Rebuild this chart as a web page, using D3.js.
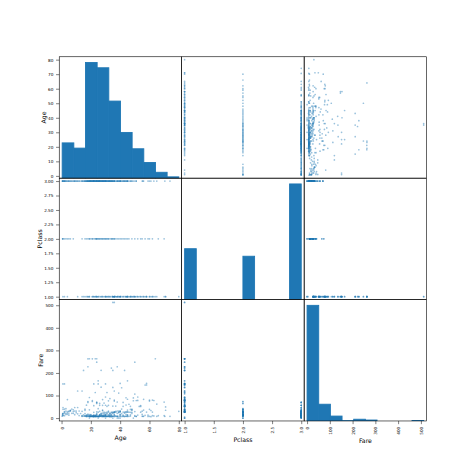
<!DOCTYPE html>
<html><head><meta charset="utf-8">
<script src="https://cdn.jsdelivr.net/npm/d3@7"></script>
<style>body{margin:0;background:#fff}svg{display:block}</style>
</head><body>
<svg id="chart" width="474" height="473"></svg>
<script>
// ---------- data ----------
const columns = ["Age", "Pclass", "Fare"];
const dataExtents = { Age: [0.42, 80], Pclass: [1, 3], Fare: [0, 512.3292] };
const ageHistCounts = [54, 46, 177, 169, 118, 70, 45, 24, 9, 2];
const pclassHistCounts = [216, 0, 0, 0, 0, 184, 0, 0, 0, 491];
const fareHistCounts = [732, 106, 31, 2, 11, 6, 0, 0, 0, 3];
const ageYTicks = [0, 10, 20, 30, 40, 50, 60, 70, 80];
const ageXTicks = [0, 20, 40, 60, 80];
const pclassYTicks = [1.0, 1.25, 1.5, 1.75, 2.0, 2.25, 2.5, 2.75, 3.0];
const pclassXTicks = [1.0, 1.5, 2.0, 2.5, 3.0];
const fareTicks = [0, 100, 200, 300, 400, 500];
// passengers: [age, pclass, fare]  (null age = missing)
const passengers = [
[38,1,71.28],[35,1,53.1],[54,1,51.86],[58,1,26.55],[28,1,35.5],[19,1,263],[40,1,27.72],[null,1,146.52],[28,1,82.17],[42,1,52],
[45,1,83.48],[65,1,61.98],[49,1,76.73],[24,1,263],[23,1,263],[64,1,263],[45,1,35.5],[37,1,53.1],[36,1,512.33],[35,1,512.33],
[50,1,247.52],[24,1,247.52],[47,1,52],[2,1,151.55],[0.92,1,151.55],[25,1,151.55],[30,1,151.55],[11,1,120],[36,1,120],[14,1,120],
[40,1,153.46],[60,1,79.2],[71,1,34.65],[71,1,49.5],[80,1,30],[70,1,71],[62,1,80],[39,1,0],[38,1,0],[40,1,0],
[33,1,5],[17,1,57],[56,1,83.16],[44,1,90],[21,1,262.38],[18,1,262.38],[58,1,146.52],[22,1,151.55],[32,1,76.29],[31,1,113.28],
[50,1,106.43],[48,1,39.6],[52,1,78.27],[30,1,93.5],[16,1,39.4],[27,1,211.5],[43,1,211.34],[35,1,211.34],[15,1,211.34],[38,1,227.53],
[18,1,227.53],[46,1,61.18],[51,1,77.96],[63,1,77.96],[29,1,66.6],[26,1,30],[36,1,26.29],[42,1,26.55],[55,1,30.5],[47,1,25.59],
[61,1,33.5],[57,1,146.52],[44,1,57.98],[33,1,86.5],[24,1,69.3],[54,1,55.44],[31,1,52],[39,1,110.88],[49,1,89.1],[53,1,51.48],
[41,1,134.5],[22,1,55],[35,1,135.63],[37,1,29.7],[45,1,26.55],[32,1,30.5],[60,1,75.25],[48,1,25.93],[27,1,136.78],[19,1,91.08],
[52,1,93.5],[36,1,75.24],[23,1,113.28],[30,1,56.93],[44,1,27.72],[58,1,153.46],[21,1,77.96],[4,1,81.86],[25,1,164.87],[62,1,26.55],
[36,1,79.65],[34,1,221.78],[50,1,28.71],[40,1,31],[47,1,38.5],[56,1,35.5],[45,1,164.87],
[null,1,30.7],[null,1,50],[null,1,227.53],[null,1,221.78],[null,1,39.6],[null,1,25.93],
[14,2,30.07],[55,2,16],[35,2,26],[34,2,13],[66,2,10.5],[27,2,21],[3,2,41.58],[29,2,26],[21,2,73.5],[32,2,10.5],
[23,2,13],[1,2,39],[8,2,36.75],[25,2,26],[30,2,13],[42,2,13],[19,2,10.5],[36,2,26],[2,2,26],[24,2,65],
[28,2,13],[57,2,12.35],[54,2,26],[40,2,15.75],[31,2,21],[18,2,73.5],[22,2,10.5],[44,2,26],[0.83,2,18.75],[4,2,23],
[50,2,10.5],[62,2,10.5],[70,2,10.5],[34,2,23],[26,2,13],[48,2,36.75],[6,2,33],[23,2,11.5],[29,2,10.5],[37,2,26],
[24,2,14.5],[16,2,10.5],[45,2,13.5],[33,2,12.28],[27,2,13.86],[39,2,26],[5,2,27.75],[20,2,15.05],[41,2,19.5],[52,2,13.5],
[35,2,0],[30,2,0],[38,2,21],[0.67,2,14.5],[46,2,26],[25,2,41.58],[32,2,26],[19,2,36.75],[60,2,39],[36,2,13],
[28,2,33],[21,2,11.5],[17,2,10.5],[43,2,26.25],[59,2,13.5],[26,2,65],[31,2,26.25],[24,2,27.72],
[null,2,13],[null,2,15.05],[null,2,0],[null,2,12.35],
[22,3,7.25],[26,3,7.92],[35,3,8.05],[2,3,21.08],[27,3,11.13],[4,3,16.7],[20,3,8.05],[39,3,31.28],[14,3,7.85],[2,3,29.13],
[31,3,18],[15,3,8.03],[8,3,21.08],[38,3,31.39],[21,3,8.05],[18,3,18],[14,3,11.24],[40,3,9.48],[19,3,8.05],[18,3,7.75],
[7,3,39.69],[21,3,7.8],[28.5,3,7.23],[22,3,7.25],[29,3,9.5],[16,3,8.05],[24,3,7.14],[20,3,7.85],[26,3,8.66],[32,3,7.92],
[25,3,7.9],[11,3,46.9],[28,3,7.9],[22,3,7.75],[29,3,7.75],[45,3,7.23],[33,3,9.5],[47,3,9],[17,3,14.46],[24,3,8.05],
[9,3,31.39],[3,3,15.9],[1,3,11.13],[34,3,6.5],[30,3,9.5],[40,3,27.9],[41,3,7.13],[42,3,8.4],[20,3,9.85],[23,3,7.85],
[43,3,8.05],[36,3,24.15],[44,3,16.1],[26,3,14.45],[19,3,7.88],[17,3,7.23],[16,3,20.25],[0.42,3,8.52],[37,3,7.93],[5,3,19.26],
[10,3,31.28],[25,3,7.05],[51,3,7.05],[55.5,3,8.05],[61,3,6.24],[65,3,7.75],[74,3,7.78],[70.5,3,7.75],[59,3,7.25],[48,3,34.38],
[56,3,7.92],[45,3,14.11],[31,3,7.78],[21,3,7.92],[24,3,16.7],[28,3,56.5],[23,3,7.55],[22,3,9.35],[32,3,56.5],[30,3,8.66],
[26,3,56.5],[33,3,15.85],[35,3,20.25],[36,3,15.55],[38,3,7.05],[18,3,14.45],[27,3,7.9],[19,3,0],[25,3,0],[49,3,0],
[29,3,21.08],[34,3,14.4],[4,3,29.13],[6,3,31.28],[1,3,20.58],[9,3,46.9],[13,3,20.25],[12,3,11.24],[3,3,31.39],[0.75,3,19.26],
[41,3,39.69],[33,3,20.52],[40,3,15.5],[45,3,27.9],[37,3,9.59],[28,3,22.03],[30,3,16.1],[20,3,7.92],[21,3,8.05],[23,3,7.23],
[24,3,9.5],[26,3,7.78],[27,3,14.45],[31,3,7.75],[32,3,8.05],[34,3,8.05],[36,3,7.5],[39,3,24.15],[17,3,7.23],[16,3,9.5],
[20,3,7.05],[22,3,7.9],[25,3,7.65],[29,3,7.9],[30,3,24.15],[35,3,7.75],[43,3,6.45],[50,3,8.05],[60,3,7.75],[63,3,9.59],
[55,3,7.75],[44,3,8.05],[47,3,14.5],[40,3,7.9],[38,3,8.66],[14,3,9.23],[11,3,18.79],[8,3,29.13],[7,3,21.08],[5,3,12.48],
[2,3,10.46],[1,3,12.18],[24,3,69.55],[42,3,69.55],[18,3,69.55],
[19,3,6.75],[23,3,7.8],[28,3,7.9],[25,3,7.23],[21,3,7.75],[30,3,8.05],[33,3,7.9],[26,3,7.8],[22,3,7.52],[24,3,7.05],
[27,3,7.9],[29,3,7.23],[32,3,7.75],[20,3,7.23],[18,3,7.8],[17,3,8.66],[34,3,6.5],[36,3,7.9],[35,3,8.05],[31,3,7.85],
[28,3,9.5],[23,3,7.9],[19,3,7.65],[26,3,7.9],[21,3,6.98],[30,3,7.23],[25,3,7.8],[24,3,7.9],[22,3,7.23],[27,3,7.78],
[33,3,8.05],[38,3,7.9],[42,3,7.55],[45,3,8.05],[39,3,7.23],[44,3,7.9],[46,3,7.75],[51,3,8.05],[20,3,14.5],[26,3,15.5],
[29,3,16.1],[32,3,15.85],[35,3,24.15],[22,3,14.45],[19,3,15.24],[24,3,19.97],[40,3,31.39],[36,3,27.9],[27,3,20.21],[30,3,14.5],
[9,3,15.25],[10,3,24.15],[2,3,39.69],[3,3,20.58],[6,3,34.38],[5,3,31.28],[1,3,46.9],[12,3,31.39],[15,3,14.45],[16,3,34.38],
[34,3,26.55],[43,3,21.68],[48,3,20.58],[33,3,20.58],[22,3,25.47],[18,3,11.5],[28,3,7.9],[23,3,8.05],[25,3,8.05],[31,3,7.9],
[null,3,8.46],[null,3,7.23],[null,3,7.88],[null,3,7.9],[null,3,7.75],[null,3,7.23],[null,3,22.36],[null,3,69.55],[null,3,8.05],[null,3,15.5],
[null,3,7.73],[null,3,14.46],[null,3,25.47],[null,3,7.25],[null,3,56.5],[null,3,8.05],[null,3,23.45],[null,3,7.75],[null,3,24.15],[null,3,6.95],
[null,3,15.25],[null,3,0],[null,3,31.39],[null,3,8.14]
];
const histCounts = { Age: ageHistCounts, Pclass: pclassHistCounts, Fare: fareHistCounts };
const yTicks = { Age: ageYTicks, Pclass: pclassYTicks, Fare: fareTicks };
const xTicks = { Age: ageXTicks, Pclass: pclassXTicks, Fare: fareTicks };
const yFmt = { Age: d3.format("d"), Pclass: d3.format(".2f"), Fare: d3.format("d") };
const xFmt = { Age: d3.format("d"), Pclass: d3.format(".1f"), Fare: d3.format("d") };

// ---------- layout ----------
const W = 474, H = 473;
const L = 0.125 * W, R = 0.9 * W, T = 0.12 * H, B = 0.89 * H;
const n = columns.length;
const pw = (R - L) / n, ph = (B - T) / n;
const color = "#1f77b4";
const tickFont = 4.2, labelFont = 6.2, tickLen = 3.2, tickPad = 2.6;
const svg = d3.select("#chart");
svg.append("rect").attr("width", W).attr("height", H).attr("fill", "#fff");

const bounds = {};
columns.forEach(c => {
  const [mn, mx] = dataExtents[c];
  const ext = (mx - mn) * 0.05 / 2;
  bounds[c] = [mn - ext, mx + ext];
});
const colIdx = { Age: 0, Pclass: 1, Fare: 2 };
const val = (p, c) => p[colIdx[c]];

const defs = svg.append("defs");
for (let i = 0; i < n; i++) {
  for (let j = 0; j < n; j++) {
    const a = columns[i], b = columns[j];
    const x0 = L + j * pw, y0 = T + i * ph;
    const sx = d3.scaleLinear().domain(bounds[b]).range([x0, x0 + pw]);
    const cid = "clip" + i + j;
    defs.append("clipPath").attr("id", cid).append("rect")
      .attr("x", x0).attr("y", y0).attr("width", pw).attr("height", ph);
    const g = svg.append("g").attr("clip-path", `url(#${cid})`);
    if (i === j) {
      const counts = histCounts[a];
      const [mn, mx] = dataExtents[a];
      const bw = (mx - mn) / counts.length;
      const sy = d3.scaleLinear().domain([0, d3.max(counts) * 1.05]).range([y0 + ph, y0]);
      const hb = g.append("g");
      hb.selectAll("rect").data(counts).join("rect")
        .attr("x", (d, k) => sx(mn + k * bw))
        .attr("width", (d, k) => sx(mn + (k + 1) * bw) - sx(mn + k * bw))
        .attr("y", d => sy(d))
        .attr("height", d => sy(0) - sy(d))
        .attr("fill", color)
        .attr("stroke", d => d > 0 ? color : "none")
        .attr("stroke-width", 0.9)
        .attr("stroke-linejoin", "miter");
    } else {
      const sy = d3.scaleLinear().domain(bounds[a]).range([y0 + ph, y0]);
      const pts = passengers.filter(p => val(p, a) !== null && val(p, b) !== null);
      g.selectAll("circle").data(pts).join("circle")
        .attr("cx", p => sx(val(p, b)))
        .attr("cy", p => sy(val(p, a)))
        .attr("r", 0.85)
        .attr("fill", color)
        .attr("fill-opacity", 0.45);
    }
    // frame
    svg.append("rect").attr("x", x0).attr("y", y0).attr("width", pw).attr("height", ph)
      .attr("fill", "none").attr("stroke", "#000").attr("stroke-width", 0.6);

    // left axis
    if (j === 0) {
      const syA = d3.scaleLinear().domain(bounds[a]).range([y0 + ph, y0]);
      const ax = svg.append("g").attr("transform", `translate(${x0},0)`)
        .call(d3.axisLeft(syA).tickValues(yTicks[a]).tickFormat(yFmt[a]).tickSize(tickLen).tickPadding(tickPad));
      ax.select(".domain").remove();
      ax.selectAll("line").attr("stroke", "#000").attr("stroke-width", 0.5);
      ax.selectAll("text").attr("font-size", tickFont).attr("font-family", "DejaVu Sans").attr("fill", "#000");
      const bb = ax.node().getBBox();
      svg.append("text").text(a)
        .attr("transform", `translate(${x0 + bb.x - 2.6},${y0 + ph / 2}) rotate(-90)`)
        .attr("text-anchor", "middle").attr("font-size", labelFont)
        .attr("font-family", "DejaVu Sans").attr("fill", "#000");
    }
    // bottom axis
    if (i === n - 1) {
      const ax = svg.append("g").attr("transform", `translate(0,${y0 + ph})`)
        .call(d3.axisBottom(sx).tickValues(xTicks[b]).tickFormat(xFmt[b]).tickSize(tickLen).tickPadding(tickPad));
      ax.select(".domain").remove();
      ax.selectAll("line").attr("stroke", "#000").attr("stroke-width", 0.5);
      ax.selectAll("text")
        .attr("font-size", tickFont).attr("font-family", "DejaVu Sans").attr("fill", "#000")
        .attr("dy", null).attr("y", 0)
        .attr("text-anchor", "end").attr("dominant-baseline", "central")
        .attr("transform", `translate(0,${tickLen + tickPad}) rotate(-90)`);
      const bb = ax.node().getBBox();
      svg.append("text").text(b)
        .attr("x", x0 + pw / 2).attr("y", y0 + ph + bb.y + bb.height + 8.3)
        .attr("text-anchor", "middle").attr("font-size", labelFont)
        .attr("font-family", "DejaVu Sans").attr("fill", "#000");
    }
  }
}
</script>
</body></html>
